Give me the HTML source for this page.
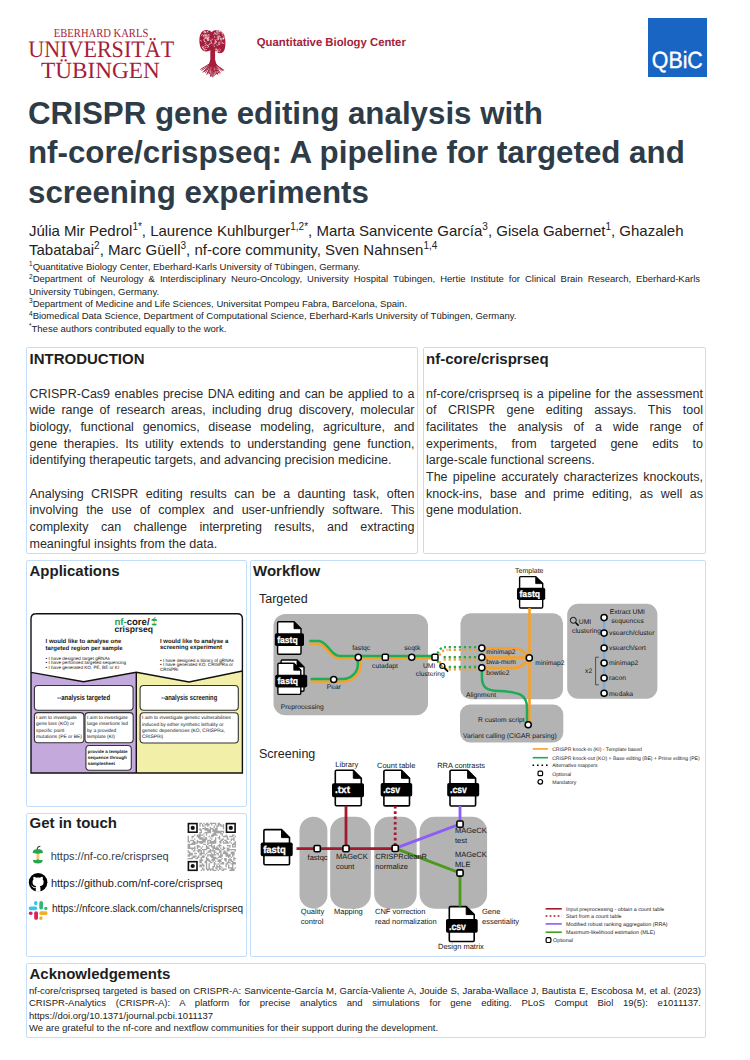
<!DOCTYPE html>
<html><head><meta charset="utf-8">
<style>
html,body{margin:0;padding:0;background:#fff;}
body{width:750px;height:1060px;position:relative;overflow:hidden;font-family:"Liberation Sans",sans-serif;color:#222;}
.a{position:absolute;white-space:nowrap;}
.box{position:absolute;border:1.5px solid #c3defa;border-radius:2px;box-sizing:border-box;}
.title{position:absolute;left:28px;top:93.6px;font-size:31.3px;line-height:39.6px;font-weight:bold;color:#2e3c48;white-space:nowrap;}
.auth{position:absolute;left:29px;top:220.8px;width:672px;font-size:15px;line-height:19px;color:#222;}
.auth sup{font-size:10px;line-height:0;vertical-align:0;position:relative;top:-6px;}
.aff{position:absolute;left:29px;top:260.7px;width:671px;font-size:9.5px;line-height:12.4px;color:#222;}
.aff div,.body div{white-space:nowrap;}
.j{text-align:justify;text-align-last:justify;}
.aff sup{font-size:6.5px;line-height:0;vertical-align:0;position:relative;top:-3.5px;}
h2{margin:0;font-size:15px;line-height:18px;font-weight:bold;color:#1e1e1e;position:absolute;white-space:nowrap;}
.body{position:absolute;font-size:12.5px;line-height:16.65px;color:#2a2a2a;}
svg{position:absolute;left:0;top:0;}
svg text{font-family:"Liberation Sans",sans-serif;text-rendering:geometricPrecision;}
</style></head><body>
<div class="title">CRISPR gene editing analysis with<br>nf-core/crispseq: A pipeline for targeted and<br>screening experiments</div>

<div class="auth">Júlia Mir Pedrol<sup>1*</sup>, Laurence Kuhlburger<sup>1,2*</sup>, Marta Sanvicente García<sup>3</sup>, Gisela Gabernet<sup>1</sup>, Ghazaleh Tabatabai<sup>2</sup>, Marc Güell<sup>3</sup>, nf-core community, Sven Nahnsen<sup>1,4</sup></div>

<div class="aff">
<div><sup>1</sup>Quantitative Biology Center, Eberhard-Karls University of Tübingen, Germany.</div>
<div class="j"><sup>2</sup>Department of Neurology &amp; Interdisciplinary Neuro-Oncology, University Hospital Tübingen, Hertie Institute for Clinical Brain Research, Eberhard-Karls</div>
<div>University Tübingen, Germany.</div>
<div><sup>3</sup>Department of Medicine and Life Sciences, Universitat Pompeu Fabra, Barcelona, Spain.</div>
<div><sup>4</sup>Biomedical Data Science, Department of Computational Science, Eberhard-Karls University of Tübingen, Germany.</div>
<div><sup>*</sup>These authors contributed equally to the work.</div>
</div>

<div class="box" style="left:26px;top:347px;width:392px;height:207px;"></div>
<div class="box" style="left:423px;top:347px;width:282.5px;height:207px;"></div>
<div class="box" style="left:26px;top:560px;width:221px;height:247px;"></div>
<div class="box" style="left:26px;top:813px;width:221px;height:144px;"></div>
<div class="box" style="left:249.5px;top:560px;width:456px;height:397px;"></div>
<div class="box" style="left:26px;top:963px;width:680px;height:75px;"></div>

<h2 style="left:29.5px;top:349.5px;">INTRODUCTION</h2>
<div class="body" style="left:29.5px;top:385.8px;width:385px;">
<div class="j">CRISPR-Cas9 enables precise DNA editing and can be applied to a</div>
<div class="j">wide range of research areas, including drug discovery, molecular</div>
<div class="j">biology, functional genomics, disease modeling, agriculture, and</div>
<div class="j">gene therapies. Its utility extends to understanding gene function,</div>
<div>identifying therapeutic targets, and advancing precision medicine.</div>
<div>&nbsp;</div>
<div class="j">Analysing CRISPR editing results can be a daunting task, often</div>
<div class="j">involving the use of complex and user-unfriendly software. This</div>
<div class="j">complexity can challenge interpreting results, and extracting</div>
<div>meaningful insights from the data.</div>
</div>

<h2 style="left:426px;top:349.5px;">nf-core/crisprseq</h2>
<div class="body" style="left:426px;top:385.8px;width:277px;">
<div class="j">nf-core/crisprseq is a pipeline for the assessment</div>
<div class="j">of CRISPR gene editing assays. This tool</div>
<div class="j">facilitates the analysis of a wide range of</div>
<div class="j">experiments, from targeted gene edits to</div>
<div>large-scale functional screens.</div>
<div class="j">The pipeline accurately characterizes knockouts,</div>
<div class="j">knock-ins, base and prime editing, as well as</div>
<div>gene modulation.</div>
</div>

<h2 style="left:29.5px;top:561.6px;">Applications</h2>
<h2 style="left:253px;top:561.6px;">Workflow</h2>
<h2 style="left:29.5px;top:814.1px;">Get in touch</h2>
<h2 style="left:29.5px;top:964.6px;">Acknowledgements</h2>

<div class="a" style="left:259px;top:592.2px;font-size:12.5px;line-height:15px;color:#222;">Targeted</div>
<div class="a" style="left:259px;top:747.3px;font-size:12.5px;line-height:15px;color:#222;">Screening</div>

<div class="aff" style="top:984.9px;width:672px;line-height:12.5px;">
<div class="j">nf-core/crisprseq targeted is based on CRISPR-A: Sanvicente-García M, García-Valiente A, Jouide S, Jaraba-Wallace J, Bautista E, Escobosa M, et al. (2023)</div>
<div class="j">CRISPR-Analytics (CRISPR-A): A platform for precise analytics and simulations for gene editing. PLoS Comput Biol 19(5): e1011137.</div>
<div>https://doi.org/10.1371/journal.pcbi.1011137</div>
<div>We are grateful to the nf-core and nextflow communities for their support during the development.</div>
</div>

<div class="a" style="left:50.7px;top:849.5px;font-size:11px;line-height:13px;color:#333d4a;">https://nf-co.re/crisprseq</div>
<div class="a" style="left:50.9px;top:876.7px;font-size:11px;line-height:13px;color:#222;">https://github.com/nf-core/crisprseq</div>
<div class="a" style="left:51.9px;top:902.5px;font-size:10px;line-height:12px;color:#222;">https://nfcore.slack.com/channels/crisprseq</div>
<svg width="750" height="1060" viewBox="0 0 750 1060">
<g fill="#a51d3a" font-family="Liberation Serif">
<text x="53.8" y="36.6" font-size="12.3" textLength="94.5" lengthAdjust="spacingAndGlyphs" style="font-family:'Liberation Serif'">EBERHARD KARLS</text>
<text x="28.2" y="56.7" font-size="23.6" textLength="146" lengthAdjust="spacingAndGlyphs" style="font-family:'Liberation Serif'">UNIVERSITÄT</text>
<text x="41" y="77.6" font-size="23.2" textLength="118.8" lengthAdjust="spacingAndGlyphs" style="font-family:'Liberation Serif'">TÜBINGEN</text>
</g>
<g><path d="M211.6,32.3 C209,28.8 202,29.2 200.3,34.5 C198.8,38.5 199.2,45 201.3,48.8 C203.2,52 207.2,52.2 210.3,50.2 L210.3,62 L215.1,62 L215.1,50.5 C217.5,54 222.5,54.3 224.4,50 C226,46 225.9,38 223.6,33.8 C221,29.2 214.5,28.8 211.6,32.3 Z" fill="#a51d3a"/><path d="M206.21,42.47 Q205.82,42.41 205.03,43.73 M206.72,35.66 Q208.04,35.60 208.29,35.61 M215.84,33.81 Q215.20,33.43 214.49,32.28 M216.61,31.91 Q216.34,30.30 216.70,30.20 M221.27,40.90 Q221.42,40.57 220.87,38.89 M203.76,35.27 Q204.71,34.79 205.25,34.95 M212.67,38.99 Q212.30,40.32 211.67,40.36 M216.87,50.94 Q217.82,49.54 218.22,49.22 M222.21,43.02 Q222.60,42.53 221.93,41.80 M207.34,31.90 Q207.35,31.51 208.67,30.16 M207.55,47.41 Q208.10,46.31 208.29,46.66 M217.74,37.78 Q218.55,37.84 219.34,36.30 M207.93,32.19 Q207.03,31.74 207.09,31.58 M215.15,33.94 Q215.84,34.94 217.12,34.47 M222.02,38.81 Q221.46,39.16 220.45,39.21 M213.92,44.14 Q214.56,44.20 215.42,43.56 M206.20,37.12 Q207.09,36.23 207.81,36.90 M210.47,43.26 Q211.54,42.66 212.19,43.48 M215.56,40.76 Q215.58,40.50 214.94,39.47 M216.72,51.69 Q216.87,52.18 216.71,53.24 M209.23,37.38 Q208.33,37.81 208.07,38.63 M219.03,31.09 Q217.88,30.25 217.33,30.30 M219.79,35.75 Q220.40,35.82 220.37,37.16 M208.23,37.84 Q209.18,36.65 208.99,36.52 M208.58,44.81 Q208.72,43.69 209.74,43.79 M219.86,48.95 Q220.62,49.78 220.40,50.17 M219.85,38.10 Q220.78,38.22 220.78,39.08 M208.81,39.67 Q208.83,39.48 207.51,40.39 M222.76,35.39 Q222.99,34.41 222.70,33.38 M207.44,38.00 Q207.66,38.20 207.59,39.07 M219.94,31.49 Q221.38,31.60 221.45,30.45 M222.09,43.19 Q222.51,42.95 223.98,43.35 M216.41,42.05 Q215.68,42.34 214.59,43.15 M206.56,49.46 Q205.36,49.11 204.64,49.73 M204.61,47.92 Q206.00,46.66 206.35,46.99 M215.59,49.48 Q215.85,49.72 216.85,49.89 M210.65,40.90 Q210.02,39.81 210.82,39.92 M203.49,32.01 Q203.83,31.85 205.49,31.68 M208.08,37.42 Q207.69,37.91 207.03,38.85 M205.09,37.73 Q206.03,38.13 206.27,38.90 M202.42,34.43 Q202.27,34.85 201.21,35.66 M219.73,44.20 Q219.06,44.83 218.41,44.81 M213.36,45.79 Q213.92,46.73 214.72,46.45 M222.98,38.73 Q223.38,38.09 224.54,37.57 M203.46,48.39 Q203.38,47.78 202.37,46.63 M218.11,42.90 Q218.00,42.85 219.47,43.93 M219.08,31.47 Q220.16,31.27 220.02,32.09 M203.41,49.07 Q203.67,48.30 202.48,47.29 M219.67,31.30 Q220.10,29.87 219.85,29.69 M218.48,51.06 Q219.22,51.85 219.76,51.58 M206.31,34.45 Q206.72,35.15 206.31,36.19 M209.32,39.23 Q208.21,39.83 208.43,40.44 M223.85,39.58 Q224.15,39.40 223.83,38.39 M216.67,41.88 Q216.43,41.41 214.91,42.06 M202.80,46.96 Q203.41,46.90 204.20,46.15 M204.97,36.38 Q204.94,36.76 205.50,38.00 M217.09,51.48 Q216.69,52.93 216.56,53.25 M214.53,36.38 Q214.60,36.69 214.74,37.38 M204.63,38.43 Q203.64,40.08 203.79,40.17 M220.22,42.76 Q219.86,42.71 218.37,42.98 M218.11,51.63 Q217.06,52.10 216.86,51.89 M216.71,51.59 Q216.60,50.69 217.49,50.57 M204.99,46.00 Q205.26,45.78 206.30,44.39 M208.02,39.81 Q207.30,39.80 207.88,38.72 M207.50,38.35 Q205.92,37.64 205.92,37.47 M210.97,41.19 Q211.91,41.84 211.39,42.84 M207.09,45.14 Q208.53,45.17 208.66,46.48 M223.09,38.73 Q222.90,38.07 223.36,36.84 M216.20,48.23 Q216.84,49.46 216.01,50.13 M217.73,45.43 Q217.41,45.39 216.62,44.93 M204.80,50.08 Q205.17,49.03 204.16,49.13 M208.46,46.35 Q208.01,45.80 207.09,45.39 M208.00,34.38 Q209.25,34.84 209.69,35.16 M218.25,38.40 Q218.77,38.40 218.11,39.86 M218.95,38.29 Q218.65,39.37 218.22,39.58 M203.19,36.45 Q204.10,37.15 204.11,37.12 M204.94,34.66 Q204.62,35.53 203.30,35.61 M214.71,33.72 Q214.26,34.20 213.72,34.46 M205.35,36.00 Q205.94,36.12 205.55,34.99 M223.28,38.93 Q222.69,39.42 221.68,38.38 M216.98,37.09 Q217.65,36.84 217.99,35.87 M216.39,41.32 Q215.13,41.25 214.85,41.09 M201.39,41.51 Q201.03,41.64 200.46,40.29 M221.91,33.48 Q221.42,32.42 222.37,31.80 M206.10,32.21 Q204.79,32.55 204.05,31.70 M217.17,33.46 Q218.40,33.13 218.25,32.12 M218.25,38.06 Q219.20,36.97 218.99,36.07 M218.66,41.17 Q218.40,41.02 219.48,41.84 M204.36,41.44 Q203.98,40.89 203.84,39.87 M207.81,40.72 Q207.33,40.62 207.88,39.24 M217.77,38.57 Q217.36,38.72 216.65,39.76 M219.30,33.66 Q218.23,33.28 218.10,33.96 M204.54,41.29 Q204.93,41.33 205.49,41.66 M217.38,31.62 Q216.02,32.79 216.17,32.47 M205.75,32.57 Q205.36,32.42 204.57,32.76 " stroke="#fff" stroke-width="0.6" fill="none" stroke-linecap="round" opacity="0.95"/><path d="M213.38,61.5 Q209.13,64.10 200.80,69.25 M212.60,61.5 Q209.49,65.58 202.01,70.23 M211.95,61.5 Q209.86,64.60 203.22,72.23 M213.09,61.5 Q210.22,65.63 204.43,71.58 M213.25,61.5 Q210.58,64.19 205.64,72.43 M211.21,61.5 Q210.95,65.18 206.85,74.36 M211.71,61.5 Q211.31,64.18 208.06,73.17 M213.16,61.5 Q211.67,64.11 209.27,73.86 M214.12,61.5 Q212.04,64.40 210.48,76.27 M213.95,61.5 Q212.40,65.61 211.69,76.11 M212.11,61.5 Q212.76,64.07 212.91,77.04 M211.46,61.5 Q213.12,65.89 214.12,75.69 M211.54,61.5 Q213.49,65.70 215.33,74.38 M213.24,61.5 Q213.85,64.67 216.54,73.88 M213.42,61.5 Q214.21,64.35 217.75,74.28 M212.86,61.5 Q214.58,65.67 218.96,73.20 M212.44,61.5 Q214.94,64.73 220.17,72.90 M212.64,61.5 Q215.30,65.56 221.38,70.83 M213.36,61.5 Q215.67,64.34 222.59,70.22 M212.36,61.5 Q216.03,65.42 223.80,70.21 " stroke="#a51d3a" stroke-width="1.0" fill="none" stroke-linecap="round"/><path d="M210.3,60 L215.1,60 L216.8,65 L212.7,68 L208.6,65 Z" fill="#a51d3a"/></g>
<text x="256.8" y="45.9" font-size="11.6" font-weight="bold" fill="#a51d3a" textLength="149" lengthAdjust="spacingAndGlyphs">Quantitative Biology Center</text>
<rect x="648" y="18" width="59" height="59" fill="#1965c4"/>
<text x="651.8" y="68.3" font-size="23.5" fill="#fff" stroke="#fff" stroke-width="0.35" textLength="51" lengthAdjust="spacingAndGlyphs">QBiC</text>
<rect x="273.5" y="614" width="154.5" height="101.2" rx="12" fill="#b3b3b3"/>
<rect x="460.5" y="613.2" width="102.5" height="86" rx="10" fill="#b3b3b3"/>
<rect x="460" y="704.5" width="103.3" height="38" rx="10" fill="#b3b3b3"/>
<rect x="567.2" y="603.7" width="90.2" height="95" rx="11" fill="#b3b3b3"/>
<path d="M278.8,621.7 H294 L301,628.7 V653.0999999999999 Q301,654.3 299.8,654.3 H278.8 Q277.6,654.3 277.6,653.0999999999999 V622.9000000000001 Q277.6,621.7 278.8,621.7 Z" fill="#fff" stroke="#000" stroke-width="1.4"/><path d="M294,621.7 V628.7 H301 Z" fill="#000" stroke="#000" stroke-width="0.84" stroke-linejoin="round"/><rect x="274.9" y="633.2" width="29.100000000000023" height="12.799999999999955" rx="1.8" fill="#000"/><text x="277.2" y="642.8" font-size="9.2" font-weight="bold" fill="#fff" stroke="#fff" stroke-width="0.3" textLength="20.5" lengthAdjust="spacingAndGlyphs">fastq</text>
<path d="M282.29999999999995,660.0 H297.0 L304.0,667.0 V689.9999999999999 Q304.0,691.1999999999999 302.8,691.1999999999999 H282.29999999999995 Q281.09999999999997,691.1999999999999 281.09999999999997,689.9999999999999 V661.2 Q281.09999999999997,660.0 282.29999999999995,660.0 Z" fill="#fff" stroke="#000" stroke-width="1.4"/><path d="M297.0,660.0 V667.0 H304.0 Z" fill="#000" stroke="#000" stroke-width="0.84" stroke-linejoin="round"/><path d="M279.09999999999997,663.2 H293.8 L300.8,670.2 V693.1999999999999 Q300.8,694.4 299.6,694.4 H279.09999999999997 Q277.9,694.4 277.9,693.1999999999999 V664.4000000000001 Q277.9,663.2 279.09999999999997,663.2 Z" fill="#fff" stroke="#000" stroke-width="1.4"/><path d="M293.8,663.2 V670.2 H300.8 Z" fill="#000" stroke="#000" stroke-width="0.84" stroke-linejoin="round"/><rect x="275.2" y="674.8" width="32.0" height="12.600000000000023" rx="1.8" fill="#000"/><text x="277.5" y="684.3" font-size="9.2" font-weight="bold" fill="#fff" stroke="#fff" stroke-width="0.3" textLength="20.5" lengthAdjust="spacingAndGlyphs">fastq</text>
<path d="M520.8000000000001,576.6 H535.7 L542.7,583.6 V606.8 Q542.7,608 541.5,608 H520.8000000000001 Q519.6,608 519.6,606.8 V577.8000000000001 Q519.6,576.6 520.8000000000001,576.6 Z" fill="#fff" stroke="#000" stroke-width="1.4"/><path d="M535.7,576.6 V583.6 H542.7 Z" fill="#000" stroke="#000" stroke-width="0.84" stroke-linejoin="round"/><rect x="517" y="587.7" width="28.200000000000045" height="12.399999999999977" rx="1.8" fill="#000"/><text x="519.5" y="597.2" font-size="9.2" font-weight="bold" fill="#fff" stroke="#fff" stroke-width="0.3" textLength="20.5" lengthAdjust="spacingAndGlyphs">fastq</text>
<text x="529.3" y="573.2" font-size="7" fill="#161616" text-anchor="middle" >Template</text>
<path d="M529.5,608 V724.8" stroke="#f6a12b" stroke-width="2.6" fill="none"/>
<path d="M481.9,668 V677 C481.9,688 487,690.5 499,691 C520,691.8 527,695 527,708 V724.8" stroke="#1fab57" stroke-width="2.5" fill="none"/>
<path d="M309.4,643.8 H317.6 C326.8,643.8 329.8,658.3 339.2,658.3 H435" stroke="#f6a12b" stroke-width="2.5" fill="none"/>
<path d="M309.4,641 H318.6 C327.5,641 330.5,655.9 339.8,655.9 H435" stroke="#1fab57" stroke-width="2.5" fill="none"/>
<path d="M310.6,681.5 H343 C353,681.5 360.2,674 360.2,665 V657.6" stroke="#f6a12b" stroke-width="2.5" fill="none"/>
<path d="M310.6,679.1 H343 C351,679.1 357.8,672 357.8,665 V657.6" stroke="#1fab57" stroke-width="2.5" fill="none"/>
<path d="M443.6,659.5 H479" stroke="#f6a12b" stroke-dasharray="2.2 2.85" stroke-width="2.3" fill="none"/>
<path d="M443.6,657.2 H479" stroke="#1fab57" stroke-dasharray="2.2 2.85" stroke-width="2.3" fill="none"/>
<path d="M448.7,649.8 H479 M448.7,669.4 H479" stroke="#f6a12b" stroke-dasharray="2.2 2.85" stroke-width="2.3" fill="none"/>
<path d="M448.7,647.1 H479 M448.7,667 H479" stroke="#1fab57" stroke-dasharray="2.2 2.85" stroke-width="2.3" fill="none"/>
<path d="M439.5,655.5 C441.5,651.5 443,650 447.5,649.8" stroke="#f6a12b" stroke-dasharray="2.2 2.6" stroke-width="2.3" fill="none"/>
<path d="M437.5,653.5 C439.5,649 441.5,647.3 446,647.1" stroke="#1fab57" stroke-dasharray="2.2 2.6" stroke-width="2.3" fill="none"/>
<path d="M439.5,661.5 C441.5,666.5 443,669.2 447.5,669.4" stroke="#f6a12b" stroke-dasharray="2.2 2.6" stroke-width="2.3" fill="none"/>
<path d="M437.5,660.5 C439.5,665 441.5,666.8 446,667" stroke="#1fab57" stroke-dasharray="2.2 2.6" stroke-width="2.3" fill="none"/>
<path d="M481.8,648.4 H514 C521,648.4 525,652 529.3,657.9 M481.8,657.7 H529.3 M481.8,667.9 H514 C521,667.9 525,664 529.3,657.9" stroke="#f6a12b" stroke-width="2.9" fill="none"/>
<circle cx="358.3" cy="657.4" r="3.05" fill="#fff" stroke="#000" stroke-width="1.5"/>
<circle cx="333.7" cy="679.5" r="3.05" fill="#fff" stroke="#000" stroke-width="1.5"/>
<circle cx="411.7" cy="657.2" r="3.05" fill="#fff" stroke="#000" stroke-width="1.5"/>
<circle cx="481.8" cy="648.1" r="3.05" fill="#fff" stroke="#000" stroke-width="1.5"/>
<circle cx="481.8" cy="657.4" r="3.05" fill="#fff" stroke="#000" stroke-width="1.5"/>
<circle cx="481.8" cy="667.7" r="3.05" fill="#fff" stroke="#000" stroke-width="1.5"/>
<circle cx="529.3" cy="657.9" r="3.05" fill="#fff" stroke="#000" stroke-width="1.5"/>
<circle cx="528.2" cy="724.8" r="3.05" fill="#fff" stroke="#000" stroke-width="1.5"/>
<rect x="382.3" y="654.2" width="6.0" height="6.0" rx="1.3" fill="#fff" stroke="#000" stroke-width="1.5"/>
<rect x="432.0" y="654.2" width="6.0" height="6.0" rx="1.3" fill="#fff" stroke="#000" stroke-width="1.5"/>
<circle cx="442.3" cy="666" r="2.5" fill="none" stroke="#000" stroke-width="1.1"/><path d="M444.2,667.9 L448.1,671.6" stroke="#000" stroke-width="1.6"/>
<circle cx="573.3" cy="620.3" r="3.0" fill="none" stroke="#000" stroke-width="0.9"/><path d="M575.5,622.5 L578.6,625.6" stroke="#000" stroke-width="1.5"/>
<path d="M604.1,617.6 V693.3" stroke="#7aaee0" stroke-width="2.4"/>
<circle cx="604.1" cy="617.6" r="3.05" fill="#fff" stroke="#000" stroke-width="1.5"/>
<circle cx="604.1" cy="633.1" r="3.05" fill="#fff" stroke="#000" stroke-width="1.5"/>
<circle cx="604.1" cy="648" r="3.05" fill="#fff" stroke="#000" stroke-width="1.5"/>
<circle cx="604.1" cy="663" r="3.05" fill="#fff" stroke="#000" stroke-width="1.5"/>
<circle cx="604.1" cy="678" r="3.05" fill="#fff" stroke="#000" stroke-width="1.5"/>
<circle cx="604.1" cy="693.3" r="3.05" fill="#fff" stroke="#000" stroke-width="1.5"/>
<path d="M598.8,657.2 H595.6 V684.8 H598.8" stroke="#333" stroke-width="0.8" fill="none"/>
<text x="361.2" y="649.9" font-size="6.75" fill="#161616" text-anchor="middle" >fastqc</text>
<text x="385" y="667.7" font-size="6.75" fill="#161616" text-anchor="middle" >cutadapt</text>
<text x="412.2" y="649.5" font-size="6.75" fill="#161616" text-anchor="middle" >seqtk</text>
<text x="429.2" y="667.7" font-size="6.75" fill="#161616" text-anchor="middle" >UMI</text>
<text x="430.3" y="675.9" font-size="6.75" fill="#161616" text-anchor="middle" >clustering</text>
<text x="334" y="688.9" font-size="6.75" fill="#161616" text-anchor="middle" >Pear</text>
<text x="280.7" y="708.9" font-size="6.75" fill="#161616" text-anchor="start" >Preprocessing</text>
<text x="486.3" y="654.4" font-size="6.75" fill="#161616" text-anchor="start" >minimap2</text>
<text x="486.3" y="664.4" font-size="6.75" fill="#161616" text-anchor="start" >bwa-mem</text>
<text x="486.3" y="674.8" font-size="6.75" fill="#161616" text-anchor="start" >bowtie2</text>
<text x="535.3" y="664.6" font-size="6.75" fill="#161616" text-anchor="start" >minimap2</text>
<text x="466" y="697.3" font-size="6.75" fill="#161616" text-anchor="start" >Alignment</text>
<text x="478" y="722.3" font-size="6.75" fill="#161616" text-anchor="start" >R custom script</text>
<text x="463" y="738.2" font-size="6.75" fill="#161616" text-anchor="start" >Variant calling (CIGAR parsing)</text>
<text x="627.3" y="614" font-size="6.75" fill="#161616" text-anchor="middle" >Extract UMI</text>
<text x="627.5" y="622.5" font-size="6.75" fill="#161616" text-anchor="middle" >sequences</text>
<text x="609" y="635.3" font-size="6.75" fill="#161616" text-anchor="start" >vsearch/cluster</text>
<text x="609" y="650.3" font-size="6.75" fill="#161616" text-anchor="start" >vsearch/sort</text>
<text x="609" y="665.3" font-size="6.75" fill="#161616" text-anchor="start" >minimap2</text>
<text x="609" y="680.3" font-size="6.75" fill="#161616" text-anchor="start" >racon</text>
<text x="609" y="695.5" font-size="6.75" fill="#161616" text-anchor="start" >medaka</text>
<text x="585" y="672.8" font-size="6.75" fill="#161616" text-anchor="start" >x2</text>
<text x="578.8" y="624.2" font-size="6.75" fill="#161616" text-anchor="start" >UMI</text>
<text x="572" y="633.2" font-size="6.75" fill="#161616" text-anchor="start" >clustering</text>
<path d="M532.7,748.9 H547.9" stroke="#f6a12b" stroke-width="1.6"/>
<path d="M532.7,757.7 H547.9" stroke="#1fab57" stroke-width="1.6"/>
<path d="M532.5,765.3 H548" stroke="#000" stroke-width="1.6" stroke-dasharray="1.6 2.9"/>
<rect x="538.0" y="771.1" width="4.6" height="4.6" rx="1.3" fill="#fff" stroke="#000" stroke-width="1.2"/>
<circle cx="540.3" cy="781.8" r="2.3" fill="#fff" stroke="#000" stroke-width="1.2"/>
<text x="552.2" y="750.7" font-size="5.1" fill="#222" text-anchor="start" >CRISPR knock-in (KI) - Template based</text>
<text x="552.2" y="759.5" font-size="5.1" fill="#222" text-anchor="start" >CRISPR knock-out (KO) + Base editing (BE) + Prime editing (PE)</text>
<text x="552.2" y="767.3" font-size="5.1" fill="#222" text-anchor="start" >Alternative mappers</text>
<text x="552.2" y="775.6" font-size="5.1" fill="#222" text-anchor="start" >Optional</text>
<text x="552.2" y="784" font-size="5.1" fill="#222" text-anchor="start" >Mandatory</text>
<rect x="299.5" y="816.7" width="27.899999999999977" height="92" rx="13.949999999999989" fill="#b3b3b3"/>
<rect x="330.2" y="816.7" width="40.60000000000002" height="92" rx="15" fill="#b3b3b3"/>
<rect x="374.2" y="816.7" width="42.5" height="92" rx="15" fill="#b3b3b3"/>
<rect x="419.6" y="816.7" width="67.5" height="92" rx="15" fill="#b3b3b3"/>
<path d="M265.09999999999997,829.6 H281.5 L289.5,837.6 V863.5999999999999 Q289.5,864.8 288.3,864.8 H265.09999999999997 Q263.9,864.8 263.9,863.5999999999999 V830.8000000000001 Q263.9,829.6 265.09999999999997,829.6 Z" fill="#fff" stroke="#000" stroke-width="1.6"/><path d="M281.5,829.6 V837.6 H289.5 Z" fill="#000" stroke="#000" stroke-width="0.96" stroke-linejoin="round"/><rect x="260.7" y="842.4" width="32.0" height="13.899999999999977" rx="1.8" fill="#000"/><text x="263.2" y="852.6" font-size="10" font-weight="bold" fill="#fff" stroke="#fff" stroke-width="0.3" textLength="22.6" lengthAdjust="spacingAndGlyphs">fastq</text>
<path d="M336.5,770.3 H353.3 L361.3,778.3 V804.5 Q361.3,805.7 360.1,805.7 H336.5 Q335.3,805.7 335.3,804.5 V771.5 Q335.3,770.3 336.5,770.3 Z" fill="#fff" stroke="#000" stroke-width="1.6"/><path d="M353.3,770.3 V778.3 H361.3 Z" fill="#000" stroke="#000" stroke-width="0.96" stroke-linejoin="round"/><rect x="332" y="783.3" width="32" height="13.900000000000091" rx="1.8" fill="#000"/><text x="335" y="793.4" font-size="10" font-weight="bold" fill="#fff" stroke="#fff" stroke-width="0.3" textLength="15" lengthAdjust="spacingAndGlyphs">.txt</text>
<path d="M385.09999999999997,770.3 H401.5 L409.5,778.3 V804.6999999999999 Q409.5,805.9 408.3,805.9 H385.09999999999997 Q383.9,805.9 383.9,804.6999999999999 V771.5 Q383.9,770.3 385.09999999999997,770.3 Z" fill="#fff" stroke="#000" stroke-width="1.6"/><path d="M401.5,770.3 V778.3 H409.5 Z" fill="#000" stroke="#000" stroke-width="0.96" stroke-linejoin="round"/><rect x="380.7" y="783" width="31.5" height="13.5" rx="1.8" fill="#000"/><text x="383.2" y="793.4" font-size="10" font-weight="bold" fill="#fff" stroke="#fff" stroke-width="0.3" textLength="16.8" lengthAdjust="spacingAndGlyphs">.csv</text>
<path d="M451.2,770.3 H467.6 L475.6,778.3 V804.8 Q475.6,806 474.40000000000003,806 H451.2 Q450,806 450,804.8 V771.5 Q450,770.3 451.2,770.3 Z" fill="#fff" stroke="#000" stroke-width="1.6"/><path d="M467.6,770.3 V778.3 H475.6 Z" fill="#000" stroke="#000" stroke-width="0.96" stroke-linejoin="round"/><rect x="447.2" y="783" width="32.0" height="13.5" rx="1.8" fill="#000"/><text x="450" y="793.4" font-size="10" font-weight="bold" fill="#fff" stroke="#fff" stroke-width="0.3" textLength="16.8" lengthAdjust="spacingAndGlyphs">.csv</text>
<path d="M450.5,906.6 H466.2 L474.2,914.6 V940.3 Q474.2,941.5 473.0,941.5 H450.5 Q449.3,941.5 449.3,940.3 V907.8000000000001 Q449.3,906.6 450.5,906.6 Z" fill="#fff" stroke="#000" stroke-width="1.6"/><path d="M466.2,906.6 V914.6 H474.2 Z" fill="#000" stroke="#000" stroke-width="0.96" stroke-linejoin="round"/><rect x="446" y="919" width="31.69999999999999" height="13.700000000000045" rx="1.8" fill="#000"/><text x="449" y="929.7" font-size="10" font-weight="bold" fill="#fff" stroke="#fff" stroke-width="0.3" textLength="16.8" lengthAdjust="spacingAndGlyphs">.csv</text>
<path d="M296.5,848.6 H395.2 M346,805.7 V848.6" stroke="#a3192e" stroke-width="2.8" fill="none"/>
<path d="M395.2,806 V848" stroke="#a3192e" stroke-width="2.8" stroke-dasharray="2.6 2.7" fill="none"/>
<path d="M395.2,848.4 L460,824.1 V806" stroke="#8c5cf5" stroke-width="2.8" fill="none"/>
<path d="M395.2,848.4 L460,873 V906.6" stroke="#4c9a1a" stroke-width="2.8" fill="none"/>
<rect x="314.09999999999997" y="845.5" width="6.2" height="6.2" rx="1.3" fill="#fff" stroke="#000" stroke-width="1.6"/>
<rect x="342.9" y="845.5" width="6.2" height="6.2" rx="1.3" fill="#fff" stroke="#000" stroke-width="1.6"/>
<rect x="392.09999999999997" y="845.3" width="6.2" height="6.2" rx="1.3" fill="#fff" stroke="#000" stroke-width="1.6"/>
<rect x="456.9" y="821.0" width="6.2" height="6.2" rx="1.3" fill="#fff" stroke="#000" stroke-width="1.6"/>
<rect x="456.9" y="869.9" width="6.2" height="6.2" rx="1.3" fill="#fff" stroke="#000" stroke-width="1.6"/>
<text x="335.3" y="766.7" font-size="7.5" fill="#161616" text-anchor="start" >Library</text>
<text x="377" y="768" font-size="7.5" fill="#161616" text-anchor="start" >Count table</text>
<text x="437.2" y="768" font-size="7.5" fill="#161616" text-anchor="start" >RRA contrasts</text>
<text x="307.6" y="860.4" font-size="7.5" fill="#161616" text-anchor="start" >fastqc</text>
<text x="336" y="859" font-size="7.5" fill="#161616" text-anchor="start" >MAGeCK</text>
<text x="336" y="868.7" font-size="7.5" fill="#161616" text-anchor="start" >count</text>
<text x="375.3" y="859" font-size="7.5" fill="#161616" text-anchor="start" >CRISPRcleanR</text>
<text x="375.3" y="868.7" font-size="7.5" fill="#161616" text-anchor="start" >normalize</text>
<text x="455" y="833.3" font-size="7.5" fill="#161616" text-anchor="start" >MAGeCK</text>
<text x="455" y="842.7" font-size="7.5" fill="#161616" text-anchor="start" >test</text>
<text x="455" y="857.3" font-size="7.5" fill="#161616" text-anchor="start" >MAGeCK</text>
<text x="455" y="866.7" font-size="7.5" fill="#161616" text-anchor="start" >MLE</text>
<text x="300.8" y="914.2" font-size="7.5" fill="#161616" text-anchor="start" >Quality</text>
<text x="300.8" y="924.2" font-size="7.5" fill="#161616" text-anchor="start" >control</text>
<text x="334" y="914.2" font-size="7.5" fill="#161616" text-anchor="start" >Mapping</text>
<text x="375" y="914.2" font-size="7.5" fill="#161616" text-anchor="start" >CNF vorrection</text>
<text x="375" y="924.2" font-size="7.5" fill="#161616" text-anchor="start" >read normalization</text>
<text x="482" y="914.2" font-size="7.5" fill="#161616" text-anchor="start" >Gene</text>
<text x="482" y="924.2" font-size="7.5" fill="#161616" text-anchor="start" >essentiality</text>
<text x="438" y="949.3" font-size="7.5" fill="#161616" text-anchor="start" >Design matrix</text>
<path d="M545.6,908.8 H561.8" stroke="#a3192e" stroke-width="1.6"/>
<path d="M545.6,916 H561.8" stroke="#a3192e" stroke-width="1.6" stroke-dasharray="1.8 2.2"/>
<path d="M545.6,923.9 H561.8" stroke="#8c5cf5" stroke-width="1.6"/>
<path d="M545.6,932.2 H561.8" stroke="#4c9a1a" stroke-width="1.6"/>
<rect x="546.1" y="937.7" width="4.8" height="4.8" rx="1.3" fill="#fff" stroke="#000" stroke-width="1.2"/>
<text x="566" y="910.7" font-size="5.35" fill="#222" text-anchor="start" >Input preprocessing - obtain a count table</text>
<text x="566" y="918" font-size="5.35" fill="#222" text-anchor="start" >Start from a count table</text>
<text x="566" y="926" font-size="5.35" fill="#222" text-anchor="start" >Modified robust ranking aggregation (RRA)</text>
<text x="566" y="934.2" font-size="5.35" fill="#222" text-anchor="start" >Maximum-likelihood estimation (MLE)</text>
<text x="553" y="942" font-size="5.35" fill="#222" text-anchor="start" >Optional</text>
<path d="M35.9,613.8 H237.4 Q242.4,613.8 242.4,618.8 V773 H31 V618.8 Q31,613.8 36,613.8 Z" fill="#fff"/>
<path d="M31,672.4 L83.6,681.8 L136.3,672.2 V773 H31 Z" fill="#c4aadc"/>
<path d="M136.3,672.2 L189,682 L242.4,671 V773 H136.3 Z" fill="#f2f0a8"/>
<path d="M31,672.4 L83.6,681.8 L136.3,672.2 L189,682 L242.4,671 M136.3,672.2 V773" stroke="#111" stroke-width="1.4" fill="none"/>
<path d="M35.9,613.8 H237.4 Q242.4,613.8 242.4,618.8 V773 H31 V618.8 Q31,613.8 36,613.8 Z" fill="none" stroke="#111" stroke-width="1.4"/>
<rect x="34.4" y="685.5" width="98.69999999999999" height="24.799999999999955" rx="3.5" fill="#fff" stroke="#333" stroke-width="1.1"/>
<rect x="140.1" y="685.5" width="98.20000000000002" height="24.799999999999955" rx="3.5" fill="#fff" stroke="#333" stroke-width="1.1"/>
<rect x="34.4" y="712.6" width="49.50000000000001" height="30.199999999999932" rx="3.5" fill="#fff" stroke="#333" stroke-width="1.1"/>
<rect x="85" y="712.6" width="48.19999999999999" height="30.199999999999932" rx="3.5" fill="#fff" stroke="#333" stroke-width="1.1"/>
<rect x="85.9" y="745.5" width="45.400000000000006" height="24.700000000000045" rx="3.5" fill="#fff" stroke="#333" stroke-width="1.1"/>
<rect x="140.1" y="712.8" width="98.20000000000002" height="30.200000000000045" rx="3.5" fill="#fff" stroke="#333" stroke-width="1.1"/>
<text x="114.4" y="624.6" font-size="9.6" font-weight="bold" fill="#1b1b1b"><tspan fill="#22a35a">nf-</tspan>core/</text>
<text x="114.4" y="632" font-size="8.6" font-weight="bold" fill="#1b1b1b">crisprseq</text>
<g transform="translate(151.2,617) scale(0.5454545454545454,0.4540540540540541)"><path d="M4.8,4.3 C4.9,2.2 6,1.2 8.1,1" stroke="#444" stroke-width="1.1" fill="none"/><path d="M0.3,7.5 C0.6,4.8 2.8,3.9 5.5,3.9 C8.2,3.9 10.5,4.8 10.8,7.5 C10,8.5 9,8 8.2,8.2 C7.2,8.4 6.6,9.3 5.5,9.3 C4.4,9.3 3.8,8.4 2.8,8.2 C2,8 1,8.5 0.3,7.5 Z" fill="#20a64c"/><rect x="4.2" y="8.6" width="2.9" height="6.8" fill="#f4c873"/><path d="M0.6,14.6 C1.4,15.4 2.3,14.9 3.2,15.1 C4.2,15.3 4.6,14.2 5.5,14.2 C6.4,14.2 6.8,15.3 7.8,15.1 C8.7,14.9 9.6,15.4 10.4,14.6 C10.4,17.2 8.4,18.5 5.5,18.5 C2.6,18.5 0.6,17.2 0.6,14.6 Z" fill="#20a64c"/></g>
<text x="45.6" y="643.4" font-size="6" font-weight="bold" fill="#151515">I would like to analyse one</text>
<text x="45.6" y="649.6" font-size="6" font-weight="bold" fill="#151515">targeted region per sample</text>
<text x="160" y="643.4" font-size="6" font-weight="bold" fill="#151515">I would like to analyse a</text>
<text x="160" y="649.4" font-size="6" font-weight="bold" fill="#151515">screening experiment</text>
<text x="45.6" y="659.6" font-size="4.6" fill="#151515">• I have designed target gRNAs</text>
<text x="45.6" y="664.4" font-size="4.6" fill="#151515">• I have performed targeted sequencing</text>
<text x="45.6" y="669.2" font-size="4.6" fill="#151515">• I have generated KO, PE, BE or KI</text>
<text x="160" y="661.8" font-size="4.6" fill="#151515">• I have designed a library of gRNAs</text>
<text x="160" y="666.1" font-size="4.6" fill="#151515">• I have generated KO, CRISPRa or</text>
<text x="160" y="670.9" font-size="4.6" fill="#151515">CRISPRi</text>
<text x="83.7" y="700.2" font-size="6.6" font-weight="bold" fill="#151515" text-anchor="middle" textLength="52.8" lengthAdjust="spacingAndGlyphs" transform="translate(0,700.2) scale(1,1.15) translate(0,-700.2)">--analysis targeted</text>
<text x="189.2" y="700.2" font-size="6.6" font-weight="bold" fill="#151515" text-anchor="middle" textLength="56" lengthAdjust="spacingAndGlyphs" transform="translate(0,700.2) scale(1,1.15) translate(0,-700.2)">--analysis screening</text>
<text x="36" y="719.20" font-size="4.9" fill="#151515">I aim to investigate</text>
<text x="36" y="725.45" font-size="4.9" fill="#151515">gene loss (KO) or</text>
<text x="36" y="731.70" font-size="4.9" fill="#151515">specific point</text>
<text x="36" y="737.95" font-size="4.9" fill="#151515">mutations (PE or BE)</text>
<text x="86.9" y="719.20" font-size="4.9" fill="#151515">I aim to investigate</text>
<text x="86.9" y="725.45" font-size="4.9" fill="#151515">large insertions led</text>
<text x="86.9" y="731.70" font-size="4.9" fill="#151515">by a provided</text>
<text x="86.9" y="737.95" font-size="4.9" fill="#151515">template (KI)</text>
<text x="87.8" y="753.30" font-size="4.5" font-weight="bold" fill="#151515">provide a template</text>
<text x="87.8" y="759.20" font-size="4.5" font-weight="bold" fill="#151515">sequence through</text>
<text x="87.8" y="765.10" font-size="4.5" font-weight="bold" fill="#151515">samplesheet</text>
<text x="142" y="719.40" font-size="4.9" fill="#151515">I aim to investigate genetic vulnerabilities</text>
<text x="142" y="725.70" font-size="4.9" fill="#151515">induced by either synthetic lethality or</text>
<text x="142" y="732.00" font-size="4.9" fill="#151515">genetic dependencies (KO, CRISPRa,</text>
<text x="142" y="738.30" font-size="4.9" fill="#151515">CRISPRi)</text>
<g transform="translate(32.3,845.2) scale(1.0,0.9891891891891892)"><path d="M4.8,4.3 C4.9,2.2 6,1.2 8.1,1" stroke="#444" stroke-width="1.1" fill="none"/><path d="M0.3,7.5 C0.6,4.8 2.8,3.9 5.5,3.9 C8.2,3.9 10.5,4.8 10.8,7.5 C10,8.5 9,8 8.2,8.2 C7.2,8.4 6.6,9.3 5.5,9.3 C4.4,9.3 3.8,8.4 2.8,8.2 C2,8 1,8.5 0.3,7.5 Z" fill="#20a64c"/><rect x="4.2" y="8.6" width="2.9" height="6.8" fill="#f4c873"/><path d="M0.6,14.6 C1.4,15.4 2.3,14.9 3.2,15.1 C4.2,15.3 4.6,14.2 5.5,14.2 C6.4,14.2 6.8,15.3 7.8,15.1 C8.7,14.9 9.6,15.4 10.4,14.6 C10.4,17.2 8.4,18.5 5.5,18.5 C2.6,18.5 0.6,17.2 0.6,14.6 Z" fill="#20a64c"/></g>
<g transform="translate(38.1,882.3)"><circle r="9.3" fill="#000"/><g transform="scale(0.9) translate(0,0.6)"><path d="M-2.6,10 V5.6 C-2.6,4.6 -2.3,4 -1.9,3.7 C-4.6,3.4 -6.2,2.2 -6.2,-1.2 C-6.2,-2.3 -5.8,-3.3 -5.1,-4 C-5.3,-4.5 -5.5,-5.6 -5,-6.8 C-5,-6.8 -4,-7.1 -1.8,-5.6 C-1.2,-5.8 -0.6,-5.9 0,-5.9 C0.6,-5.9 1.2,-5.8 1.8,-5.6 C4,-7.1 5,-6.8 5,-6.8 C5.5,-5.6 5.3,-4.5 5.1,-4 C5.8,-3.3 6.2,-2.3 6.2,-1.2 C6.2,2.2 4.6,3.4 1.9,3.7 C2.3,4 2.6,4.7 2.6,5.6 V10 Z" fill="#fff"/><path d="M-2.6,5.2 C-5.5,6 -5.9,3.8 -7.2,3.3" stroke="#fff" stroke-width="1.1" fill="none"/></g></g>
<rect x="28.8" y="906.4" width="8.400000000000002" height="3.800000000000068" rx="1.900000000000034" fill="#36c5f0"/>
<rect x="34.1" y="901.1" width="3.299999999999997" height="4.100000000000023" rx="1.6499999999999986" fill="#36c5f0"/>
<rect x="39.3" y="901.1" width="3.700000000000003" height="8.5" rx="1.8500000000000014" fill="#2eb67d"/>
<rect x="44.2" y="906.8" width="3.299999999999997" height="3.400000000000091" rx="1.6499999999999986" fill="#2eb67d"/>
<rect x="28.8" y="911.4" width="3.8000000000000007" height="3.6000000000000227" rx="1.8000000000000114" fill="#e01e5a"/>
<rect x="34.2" y="911.3" width="3.799999999999997" height="8.5" rx="1.8999999999999986" fill="#e01e5a"/>
<rect x="39.3" y="911.3" width="8.200000000000003" height="3.7000000000000455" rx="1.8500000000000227" fill="#ecb22e"/>
<rect x="39.3" y="916.3" width="3.3000000000000043" height="3.7000000000000455" rx="1.6500000000000021" fill="#ecb22e"/>
<g transform="translate(187.6,822.8)"><path d="M11.75,0.00h1.31v1.31h-1.31zM13.05,0.00h1.31v1.31h-1.31zM15.66,0.00h1.31v1.31h-1.31zM18.28,0.00h1.31v1.31h-1.31zM19.58,0.00h1.31v1.31h-1.31zM22.19,0.00h1.31v1.31h-1.31zM23.50,0.00h1.31v1.31h-1.31zM24.80,0.00h1.31v1.31h-1.31zM26.11,0.00h1.31v1.31h-1.31zM27.41,0.00h1.31v1.31h-1.31zM30.02,0.00h1.31v1.31h-1.31zM31.33,0.00h1.31v1.31h-1.31zM11.75,1.31h1.31v1.31h-1.31zM14.36,1.31h1.31v1.31h-1.31zM16.97,1.31h1.31v1.31h-1.31zM18.28,1.31h1.31v1.31h-1.31zM19.58,1.31h1.31v1.31h-1.31zM20.89,1.31h1.31v1.31h-1.31zM23.50,1.31h1.31v1.31h-1.31zM27.41,1.31h1.31v1.31h-1.31zM30.02,1.31h1.31v1.31h-1.31zM31.33,1.31h1.31v1.31h-1.31zM32.64,1.31h1.31v1.31h-1.31zM35.25,1.31h1.31v1.31h-1.31zM11.75,2.61h1.31v1.31h-1.31zM14.36,2.61h1.31v1.31h-1.31zM15.66,2.61h1.31v1.31h-1.31zM19.58,2.61h1.31v1.31h-1.31zM26.11,2.61h1.31v1.31h-1.31zM28.72,2.61h1.31v1.31h-1.31zM30.02,2.61h1.31v1.31h-1.31zM32.64,2.61h1.31v1.31h-1.31zM33.94,2.61h1.31v1.31h-1.31zM35.25,2.61h1.31v1.31h-1.31zM16.97,3.92h1.31v1.31h-1.31zM22.19,3.92h1.31v1.31h-1.31zM26.11,3.92h1.31v1.31h-1.31zM28.72,3.92h1.31v1.31h-1.31zM35.25,3.92h1.31v1.31h-1.31zM11.75,5.22h1.31v1.31h-1.31zM14.36,5.22h1.31v1.31h-1.31zM15.66,5.22h1.31v1.31h-1.31zM16.97,5.22h1.31v1.31h-1.31zM18.28,5.22h1.31v1.31h-1.31zM19.58,5.22h1.31v1.31h-1.31zM22.19,5.22h1.31v1.31h-1.31zM23.50,5.22h1.31v1.31h-1.31zM24.80,5.22h1.31v1.31h-1.31zM27.41,5.22h1.31v1.31h-1.31zM28.72,5.22h1.31v1.31h-1.31zM35.25,5.22h1.31v1.31h-1.31zM11.75,6.53h1.31v1.31h-1.31zM13.05,6.53h1.31v1.31h-1.31zM16.97,6.53h1.31v1.31h-1.31zM18.28,6.53h1.31v1.31h-1.31zM19.58,6.53h1.31v1.31h-1.31zM20.89,6.53h1.31v1.31h-1.31zM22.19,6.53h1.31v1.31h-1.31zM24.80,6.53h1.31v1.31h-1.31zM26.11,6.53h1.31v1.31h-1.31zM27.41,6.53h1.31v1.31h-1.31zM28.72,6.53h1.31v1.31h-1.31zM13.05,7.83h1.31v1.31h-1.31zM19.58,7.83h1.31v1.31h-1.31zM20.89,7.83h1.31v1.31h-1.31zM22.19,7.83h1.31v1.31h-1.31zM24.80,7.83h1.31v1.31h-1.31zM26.11,7.83h1.31v1.31h-1.31zM27.41,7.83h1.31v1.31h-1.31zM28.72,7.83h1.31v1.31h-1.31zM30.02,7.83h1.31v1.31h-1.31zM31.33,7.83h1.31v1.31h-1.31zM32.64,7.83h1.31v1.31h-1.31zM33.94,7.83h1.31v1.31h-1.31zM35.25,7.83h1.31v1.31h-1.31zM11.75,9.14h1.31v1.31h-1.31zM13.05,9.14h1.31v1.31h-1.31zM16.97,9.14h1.31v1.31h-1.31zM18.28,9.14h1.31v1.31h-1.31zM19.58,9.14h1.31v1.31h-1.31zM20.89,9.14h1.31v1.31h-1.31zM22.19,9.14h1.31v1.31h-1.31zM26.11,9.14h1.31v1.31h-1.31zM27.41,9.14h1.31v1.31h-1.31zM28.72,9.14h1.31v1.31h-1.31zM30.02,9.14h1.31v1.31h-1.31zM31.33,9.14h1.31v1.31h-1.31zM32.64,9.14h1.31v1.31h-1.31zM35.25,9.14h1.31v1.31h-1.31zM11.75,10.44h1.31v1.31h-1.31zM15.66,10.44h1.31v1.31h-1.31zM18.28,10.44h1.31v1.31h-1.31zM24.80,10.44h1.31v1.31h-1.31zM26.11,10.44h1.31v1.31h-1.31zM27.41,10.44h1.31v1.31h-1.31zM32.64,10.44h1.31v1.31h-1.31zM33.94,10.44h1.31v1.31h-1.31zM6.53,11.75h1.31v1.31h-1.31zM9.14,11.75h1.31v1.31h-1.31zM10.44,11.75h1.31v1.31h-1.31zM11.75,11.75h1.31v1.31h-1.31zM13.05,11.75h1.31v1.31h-1.31zM14.36,11.75h1.31v1.31h-1.31zM18.28,11.75h1.31v1.31h-1.31zM23.50,11.75h1.31v1.31h-1.31zM24.80,11.75h1.31v1.31h-1.31zM26.11,11.75h1.31v1.31h-1.31zM27.41,11.75h1.31v1.31h-1.31zM28.72,11.75h1.31v1.31h-1.31zM33.94,11.75h1.31v1.31h-1.31zM37.86,11.75h1.31v1.31h-1.31zM44.38,11.75h1.31v1.31h-1.31zM45.69,11.75h1.31v1.31h-1.31zM0.00,13.05h1.31v1.31h-1.31zM3.92,13.05h1.31v1.31h-1.31zM5.22,13.05h1.31v1.31h-1.31zM9.14,13.05h1.31v1.31h-1.31zM10.44,13.05h1.31v1.31h-1.31zM11.75,13.05h1.31v1.31h-1.31zM15.66,13.05h1.31v1.31h-1.31zM20.89,13.05h1.31v1.31h-1.31zM23.50,13.05h1.31v1.31h-1.31zM24.80,13.05h1.31v1.31h-1.31zM31.33,13.05h1.31v1.31h-1.31zM35.25,13.05h1.31v1.31h-1.31zM36.55,13.05h1.31v1.31h-1.31zM37.86,13.05h1.31v1.31h-1.31zM39.16,13.05h1.31v1.31h-1.31zM41.77,13.05h1.31v1.31h-1.31zM43.08,13.05h1.31v1.31h-1.31zM44.38,13.05h1.31v1.31h-1.31zM46.99,13.05h1.31v1.31h-1.31zM0.00,14.36h1.31v1.31h-1.31zM3.92,14.36h1.31v1.31h-1.31zM10.44,14.36h1.31v1.31h-1.31zM11.75,14.36h1.31v1.31h-1.31zM13.05,14.36h1.31v1.31h-1.31zM14.36,14.36h1.31v1.31h-1.31zM16.97,14.36h1.31v1.31h-1.31zM18.28,14.36h1.31v1.31h-1.31zM22.19,14.36h1.31v1.31h-1.31zM27.41,14.36h1.31v1.31h-1.31zM30.02,14.36h1.31v1.31h-1.31zM31.33,14.36h1.31v1.31h-1.31zM39.16,14.36h1.31v1.31h-1.31zM45.69,14.36h1.31v1.31h-1.31zM0.00,15.66h1.31v1.31h-1.31zM6.53,15.66h1.31v1.31h-1.31zM11.75,15.66h1.31v1.31h-1.31zM13.05,15.66h1.31v1.31h-1.31zM14.36,15.66h1.31v1.31h-1.31zM15.66,15.66h1.31v1.31h-1.31zM16.97,15.66h1.31v1.31h-1.31zM18.28,15.66h1.31v1.31h-1.31zM23.50,15.66h1.31v1.31h-1.31zM27.41,15.66h1.31v1.31h-1.31zM31.33,15.66h1.31v1.31h-1.31zM33.94,15.66h1.31v1.31h-1.31zM35.25,15.66h1.31v1.31h-1.31zM39.16,15.66h1.31v1.31h-1.31zM40.47,15.66h1.31v1.31h-1.31zM43.08,15.66h1.31v1.31h-1.31zM44.38,15.66h1.31v1.31h-1.31zM45.69,15.66h1.31v1.31h-1.31zM0.00,16.97h1.31v1.31h-1.31zM2.61,16.97h1.31v1.31h-1.31zM3.92,16.97h1.31v1.31h-1.31zM5.22,16.97h1.31v1.31h-1.31zM9.14,16.97h1.31v1.31h-1.31zM14.36,16.97h1.31v1.31h-1.31zM15.66,16.97h1.31v1.31h-1.31zM16.97,16.97h1.31v1.31h-1.31zM19.58,16.97h1.31v1.31h-1.31zM20.89,16.97h1.31v1.31h-1.31zM22.19,16.97h1.31v1.31h-1.31zM26.11,16.97h1.31v1.31h-1.31zM27.41,16.97h1.31v1.31h-1.31zM32.64,16.97h1.31v1.31h-1.31zM33.94,16.97h1.31v1.31h-1.31zM36.55,16.97h1.31v1.31h-1.31zM37.86,16.97h1.31v1.31h-1.31zM43.08,16.97h1.31v1.31h-1.31zM45.69,16.97h1.31v1.31h-1.31zM0.00,18.28h1.31v1.31h-1.31zM1.31,18.28h1.31v1.31h-1.31zM5.22,18.28h1.31v1.31h-1.31zM6.53,18.28h1.31v1.31h-1.31zM9.14,18.28h1.31v1.31h-1.31zM10.44,18.28h1.31v1.31h-1.31zM11.75,18.28h1.31v1.31h-1.31zM13.05,18.28h1.31v1.31h-1.31zM14.36,18.28h1.31v1.31h-1.31zM15.66,18.28h1.31v1.31h-1.31zM16.97,18.28h1.31v1.31h-1.31zM19.58,18.28h1.31v1.31h-1.31zM22.19,18.28h1.31v1.31h-1.31zM23.50,18.28h1.31v1.31h-1.31zM24.80,18.28h1.31v1.31h-1.31zM26.11,18.28h1.31v1.31h-1.31zM27.41,18.28h1.31v1.31h-1.31zM31.33,18.28h1.31v1.31h-1.31zM32.64,18.28h1.31v1.31h-1.31zM35.25,18.28h1.31v1.31h-1.31zM37.86,18.28h1.31v1.31h-1.31zM39.16,18.28h1.31v1.31h-1.31zM41.77,18.28h1.31v1.31h-1.31zM46.99,18.28h1.31v1.31h-1.31zM3.92,19.58h1.31v1.31h-1.31zM5.22,19.58h1.31v1.31h-1.31zM6.53,19.58h1.31v1.31h-1.31zM7.83,19.58h1.31v1.31h-1.31zM9.14,19.58h1.31v1.31h-1.31zM11.75,19.58h1.31v1.31h-1.31zM13.05,19.58h1.31v1.31h-1.31zM14.36,19.58h1.31v1.31h-1.31zM19.58,19.58h1.31v1.31h-1.31zM20.89,19.58h1.31v1.31h-1.31zM22.19,19.58h1.31v1.31h-1.31zM23.50,19.58h1.31v1.31h-1.31zM24.80,19.58h1.31v1.31h-1.31zM26.11,19.58h1.31v1.31h-1.31zM27.41,19.58h1.31v1.31h-1.31zM32.64,19.58h1.31v1.31h-1.31zM35.25,19.58h1.31v1.31h-1.31zM36.55,19.58h1.31v1.31h-1.31zM37.86,19.58h1.31v1.31h-1.31zM39.16,19.58h1.31v1.31h-1.31zM40.47,19.58h1.31v1.31h-1.31zM43.08,19.58h1.31v1.31h-1.31zM45.69,19.58h1.31v1.31h-1.31zM46.99,19.58h1.31v1.31h-1.31zM0.00,20.89h1.31v1.31h-1.31zM1.31,20.89h1.31v1.31h-1.31zM2.61,20.89h1.31v1.31h-1.31zM3.92,20.89h1.31v1.31h-1.31zM5.22,20.89h1.31v1.31h-1.31zM6.53,20.89h1.31v1.31h-1.31zM15.66,20.89h1.31v1.31h-1.31zM16.97,20.89h1.31v1.31h-1.31zM19.58,20.89h1.31v1.31h-1.31zM23.50,20.89h1.31v1.31h-1.31zM31.33,20.89h1.31v1.31h-1.31zM44.38,20.89h1.31v1.31h-1.31zM45.69,20.89h1.31v1.31h-1.31zM46.99,20.89h1.31v1.31h-1.31zM0.00,22.19h1.31v1.31h-1.31zM1.31,22.19h1.31v1.31h-1.31zM9.14,22.19h1.31v1.31h-1.31zM10.44,22.19h1.31v1.31h-1.31zM18.28,22.19h1.31v1.31h-1.31zM20.89,22.19h1.31v1.31h-1.31zM22.19,22.19h1.31v1.31h-1.31zM23.50,22.19h1.31v1.31h-1.31zM26.11,22.19h1.31v1.31h-1.31zM30.02,22.19h1.31v1.31h-1.31zM31.33,22.19h1.31v1.31h-1.31zM32.64,22.19h1.31v1.31h-1.31zM39.16,22.19h1.31v1.31h-1.31zM40.47,22.19h1.31v1.31h-1.31zM41.77,22.19h1.31v1.31h-1.31zM44.38,22.19h1.31v1.31h-1.31zM46.99,22.19h1.31v1.31h-1.31zM0.00,23.50h1.31v1.31h-1.31zM1.31,23.50h1.31v1.31h-1.31zM6.53,23.50h1.31v1.31h-1.31zM9.14,23.50h1.31v1.31h-1.31zM10.44,23.50h1.31v1.31h-1.31zM11.75,23.50h1.31v1.31h-1.31zM14.36,23.50h1.31v1.31h-1.31zM18.28,23.50h1.31v1.31h-1.31zM19.58,23.50h1.31v1.31h-1.31zM23.50,23.50h1.31v1.31h-1.31zM24.80,23.50h1.31v1.31h-1.31zM26.11,23.50h1.31v1.31h-1.31zM28.72,23.50h1.31v1.31h-1.31zM31.33,23.50h1.31v1.31h-1.31zM35.25,23.50h1.31v1.31h-1.31zM41.77,23.50h1.31v1.31h-1.31zM44.38,23.50h1.31v1.31h-1.31zM45.69,23.50h1.31v1.31h-1.31zM46.99,23.50h1.31v1.31h-1.31zM0.00,24.80h1.31v1.31h-1.31zM1.31,24.80h1.31v1.31h-1.31zM2.61,24.80h1.31v1.31h-1.31zM3.92,24.80h1.31v1.31h-1.31zM5.22,24.80h1.31v1.31h-1.31zM6.53,24.80h1.31v1.31h-1.31zM9.14,24.80h1.31v1.31h-1.31zM13.05,24.80h1.31v1.31h-1.31zM18.28,24.80h1.31v1.31h-1.31zM19.58,24.80h1.31v1.31h-1.31zM20.89,24.80h1.31v1.31h-1.31zM24.80,24.80h1.31v1.31h-1.31zM26.11,24.80h1.31v1.31h-1.31zM27.41,24.80h1.31v1.31h-1.31zM28.72,24.80h1.31v1.31h-1.31zM30.02,24.80h1.31v1.31h-1.31zM32.64,24.80h1.31v1.31h-1.31zM35.25,24.80h1.31v1.31h-1.31zM36.55,24.80h1.31v1.31h-1.31zM39.16,24.80h1.31v1.31h-1.31zM40.47,24.80h1.31v1.31h-1.31zM3.92,26.11h1.31v1.31h-1.31zM6.53,26.11h1.31v1.31h-1.31zM10.44,26.11h1.31v1.31h-1.31zM11.75,26.11h1.31v1.31h-1.31zM14.36,26.11h1.31v1.31h-1.31zM15.66,26.11h1.31v1.31h-1.31zM16.97,26.11h1.31v1.31h-1.31zM18.28,26.11h1.31v1.31h-1.31zM22.19,26.11h1.31v1.31h-1.31zM24.80,26.11h1.31v1.31h-1.31zM27.41,26.11h1.31v1.31h-1.31zM28.72,26.11h1.31v1.31h-1.31zM30.02,26.11h1.31v1.31h-1.31zM31.33,26.11h1.31v1.31h-1.31zM33.94,26.11h1.31v1.31h-1.31zM35.25,26.11h1.31v1.31h-1.31zM39.16,26.11h1.31v1.31h-1.31zM40.47,26.11h1.31v1.31h-1.31zM41.77,26.11h1.31v1.31h-1.31zM43.08,26.11h1.31v1.31h-1.31zM44.38,26.11h1.31v1.31h-1.31zM45.69,26.11h1.31v1.31h-1.31zM46.99,26.11h1.31v1.31h-1.31zM0.00,27.41h1.31v1.31h-1.31zM5.22,27.41h1.31v1.31h-1.31zM6.53,27.41h1.31v1.31h-1.31zM9.14,27.41h1.31v1.31h-1.31zM10.44,27.41h1.31v1.31h-1.31zM11.75,27.41h1.31v1.31h-1.31zM13.05,27.41h1.31v1.31h-1.31zM15.66,27.41h1.31v1.31h-1.31zM20.89,27.41h1.31v1.31h-1.31zM22.19,27.41h1.31v1.31h-1.31zM23.50,27.41h1.31v1.31h-1.31zM24.80,27.41h1.31v1.31h-1.31zM26.11,27.41h1.31v1.31h-1.31zM31.33,27.41h1.31v1.31h-1.31zM32.64,27.41h1.31v1.31h-1.31zM36.55,27.41h1.31v1.31h-1.31zM39.16,27.41h1.31v1.31h-1.31zM40.47,27.41h1.31v1.31h-1.31zM46.99,27.41h1.31v1.31h-1.31zM0.00,28.72h1.31v1.31h-1.31zM1.31,28.72h1.31v1.31h-1.31zM10.44,28.72h1.31v1.31h-1.31zM13.05,28.72h1.31v1.31h-1.31zM15.66,28.72h1.31v1.31h-1.31zM19.58,28.72h1.31v1.31h-1.31zM20.89,28.72h1.31v1.31h-1.31zM22.19,28.72h1.31v1.31h-1.31zM26.11,28.72h1.31v1.31h-1.31zM27.41,28.72h1.31v1.31h-1.31zM31.33,28.72h1.31v1.31h-1.31zM32.64,28.72h1.31v1.31h-1.31zM35.25,28.72h1.31v1.31h-1.31zM36.55,28.72h1.31v1.31h-1.31zM37.86,28.72h1.31v1.31h-1.31zM43.08,28.72h1.31v1.31h-1.31zM44.38,28.72h1.31v1.31h-1.31zM45.69,28.72h1.31v1.31h-1.31zM1.31,30.02h1.31v1.31h-1.31zM2.61,30.02h1.31v1.31h-1.31zM3.92,30.02h1.31v1.31h-1.31zM6.53,30.02h1.31v1.31h-1.31zM7.83,30.02h1.31v1.31h-1.31zM11.75,30.02h1.31v1.31h-1.31zM13.05,30.02h1.31v1.31h-1.31zM14.36,30.02h1.31v1.31h-1.31zM15.66,30.02h1.31v1.31h-1.31zM18.28,30.02h1.31v1.31h-1.31zM23.50,30.02h1.31v1.31h-1.31zM26.11,30.02h1.31v1.31h-1.31zM28.72,30.02h1.31v1.31h-1.31zM30.02,30.02h1.31v1.31h-1.31zM32.64,30.02h1.31v1.31h-1.31zM35.25,30.02h1.31v1.31h-1.31zM36.55,30.02h1.31v1.31h-1.31zM37.86,30.02h1.31v1.31h-1.31zM39.16,30.02h1.31v1.31h-1.31zM43.08,30.02h1.31v1.31h-1.31zM44.38,30.02h1.31v1.31h-1.31zM45.69,30.02h1.31v1.31h-1.31zM0.00,31.33h1.31v1.31h-1.31zM1.31,31.33h1.31v1.31h-1.31zM2.61,31.33h1.31v1.31h-1.31zM3.92,31.33h1.31v1.31h-1.31zM11.75,31.33h1.31v1.31h-1.31zM13.05,31.33h1.31v1.31h-1.31zM16.97,31.33h1.31v1.31h-1.31zM19.58,31.33h1.31v1.31h-1.31zM20.89,31.33h1.31v1.31h-1.31zM22.19,31.33h1.31v1.31h-1.31zM23.50,31.33h1.31v1.31h-1.31zM24.80,31.33h1.31v1.31h-1.31zM26.11,31.33h1.31v1.31h-1.31zM27.41,31.33h1.31v1.31h-1.31zM30.02,31.33h1.31v1.31h-1.31zM32.64,31.33h1.31v1.31h-1.31zM33.94,31.33h1.31v1.31h-1.31zM37.86,31.33h1.31v1.31h-1.31zM39.16,31.33h1.31v1.31h-1.31zM40.47,31.33h1.31v1.31h-1.31zM41.77,31.33h1.31v1.31h-1.31zM44.38,31.33h1.31v1.31h-1.31zM45.69,31.33h1.31v1.31h-1.31zM0.00,32.64h1.31v1.31h-1.31zM1.31,32.64h1.31v1.31h-1.31zM5.22,32.64h1.31v1.31h-1.31zM6.53,32.64h1.31v1.31h-1.31zM7.83,32.64h1.31v1.31h-1.31zM10.44,32.64h1.31v1.31h-1.31zM14.36,32.64h1.31v1.31h-1.31zM15.66,32.64h1.31v1.31h-1.31zM19.58,32.64h1.31v1.31h-1.31zM22.19,32.64h1.31v1.31h-1.31zM23.50,32.64h1.31v1.31h-1.31zM24.80,32.64h1.31v1.31h-1.31zM31.33,32.64h1.31v1.31h-1.31zM32.64,32.64h1.31v1.31h-1.31zM33.94,32.64h1.31v1.31h-1.31zM37.86,32.64h1.31v1.31h-1.31zM39.16,32.64h1.31v1.31h-1.31zM40.47,32.64h1.31v1.31h-1.31zM41.77,32.64h1.31v1.31h-1.31zM44.38,32.64h1.31v1.31h-1.31zM3.92,33.94h1.31v1.31h-1.31zM5.22,33.94h1.31v1.31h-1.31zM6.53,33.94h1.31v1.31h-1.31zM9.14,33.94h1.31v1.31h-1.31zM10.44,33.94h1.31v1.31h-1.31zM13.05,33.94h1.31v1.31h-1.31zM14.36,33.94h1.31v1.31h-1.31zM15.66,33.94h1.31v1.31h-1.31zM18.28,33.94h1.31v1.31h-1.31zM23.50,33.94h1.31v1.31h-1.31zM24.80,33.94h1.31v1.31h-1.31zM26.11,33.94h1.31v1.31h-1.31zM27.41,33.94h1.31v1.31h-1.31zM30.02,33.94h1.31v1.31h-1.31zM31.33,33.94h1.31v1.31h-1.31zM32.64,33.94h1.31v1.31h-1.31zM40.47,33.94h1.31v1.31h-1.31zM43.08,33.94h1.31v1.31h-1.31zM45.69,33.94h1.31v1.31h-1.31zM0.00,35.25h1.31v1.31h-1.31zM1.31,35.25h1.31v1.31h-1.31zM2.61,35.25h1.31v1.31h-1.31zM3.92,35.25h1.31v1.31h-1.31zM7.83,35.25h1.31v1.31h-1.31zM9.14,35.25h1.31v1.31h-1.31zM13.05,35.25h1.31v1.31h-1.31zM18.28,35.25h1.31v1.31h-1.31zM19.58,35.25h1.31v1.31h-1.31zM24.80,35.25h1.31v1.31h-1.31zM26.11,35.25h1.31v1.31h-1.31zM27.41,35.25h1.31v1.31h-1.31zM28.72,35.25h1.31v1.31h-1.31zM33.94,35.25h1.31v1.31h-1.31zM36.55,35.25h1.31v1.31h-1.31zM37.86,35.25h1.31v1.31h-1.31zM41.77,35.25h1.31v1.31h-1.31zM45.69,35.25h1.31v1.31h-1.31zM46.99,35.25h1.31v1.31h-1.31zM11.75,36.55h1.31v1.31h-1.31zM13.05,36.55h1.31v1.31h-1.31zM14.36,36.55h1.31v1.31h-1.31zM18.28,36.55h1.31v1.31h-1.31zM19.58,36.55h1.31v1.31h-1.31zM20.89,36.55h1.31v1.31h-1.31zM23.50,36.55h1.31v1.31h-1.31zM24.80,36.55h1.31v1.31h-1.31zM26.11,36.55h1.31v1.31h-1.31zM30.02,36.55h1.31v1.31h-1.31zM31.33,36.55h1.31v1.31h-1.31zM32.64,36.55h1.31v1.31h-1.31zM36.55,36.55h1.31v1.31h-1.31zM37.86,36.55h1.31v1.31h-1.31zM40.47,36.55h1.31v1.31h-1.31zM41.77,36.55h1.31v1.31h-1.31zM43.08,36.55h1.31v1.31h-1.31zM45.69,36.55h1.31v1.31h-1.31zM11.75,37.86h1.31v1.31h-1.31zM13.05,37.86h1.31v1.31h-1.31zM16.97,37.86h1.31v1.31h-1.31zM18.28,37.86h1.31v1.31h-1.31zM20.89,37.86h1.31v1.31h-1.31zM22.19,37.86h1.31v1.31h-1.31zM24.80,37.86h1.31v1.31h-1.31zM27.41,37.86h1.31v1.31h-1.31zM30.02,37.86h1.31v1.31h-1.31zM31.33,37.86h1.31v1.31h-1.31zM32.64,37.86h1.31v1.31h-1.31zM37.86,37.86h1.31v1.31h-1.31zM40.47,37.86h1.31v1.31h-1.31zM43.08,37.86h1.31v1.31h-1.31zM44.38,37.86h1.31v1.31h-1.31zM11.75,39.16h1.31v1.31h-1.31zM13.05,39.16h1.31v1.31h-1.31zM16.97,39.16h1.31v1.31h-1.31zM18.28,39.16h1.31v1.31h-1.31zM22.19,39.16h1.31v1.31h-1.31zM23.50,39.16h1.31v1.31h-1.31zM26.11,39.16h1.31v1.31h-1.31zM31.33,39.16h1.31v1.31h-1.31zM33.94,39.16h1.31v1.31h-1.31zM35.25,39.16h1.31v1.31h-1.31zM39.16,39.16h1.31v1.31h-1.31zM40.47,39.16h1.31v1.31h-1.31zM41.77,39.16h1.31v1.31h-1.31zM44.38,39.16h1.31v1.31h-1.31zM45.69,39.16h1.31v1.31h-1.31zM46.99,39.16h1.31v1.31h-1.31zM14.36,40.47h1.31v1.31h-1.31zM18.28,40.47h1.31v1.31h-1.31zM20.89,40.47h1.31v1.31h-1.31zM26.11,40.47h1.31v1.31h-1.31zM27.41,40.47h1.31v1.31h-1.31zM30.02,40.47h1.31v1.31h-1.31zM32.64,40.47h1.31v1.31h-1.31zM33.94,40.47h1.31v1.31h-1.31zM35.25,40.47h1.31v1.31h-1.31zM37.86,40.47h1.31v1.31h-1.31zM39.16,40.47h1.31v1.31h-1.31zM43.08,40.47h1.31v1.31h-1.31zM44.38,40.47h1.31v1.31h-1.31zM45.69,40.47h1.31v1.31h-1.31zM46.99,40.47h1.31v1.31h-1.31zM11.75,41.77h1.31v1.31h-1.31zM13.05,41.77h1.31v1.31h-1.31zM14.36,41.77h1.31v1.31h-1.31zM15.66,41.77h1.31v1.31h-1.31zM18.28,41.77h1.31v1.31h-1.31zM20.89,41.77h1.31v1.31h-1.31zM26.11,41.77h1.31v1.31h-1.31zM28.72,41.77h1.31v1.31h-1.31zM31.33,41.77h1.31v1.31h-1.31zM37.86,41.77h1.31v1.31h-1.31zM40.47,41.77h1.31v1.31h-1.31zM44.38,41.77h1.31v1.31h-1.31zM11.75,43.08h1.31v1.31h-1.31zM13.05,43.08h1.31v1.31h-1.31zM15.66,43.08h1.31v1.31h-1.31zM18.28,43.08h1.31v1.31h-1.31zM20.89,43.08h1.31v1.31h-1.31zM24.80,43.08h1.31v1.31h-1.31zM26.11,43.08h1.31v1.31h-1.31zM28.72,43.08h1.31v1.31h-1.31zM30.02,43.08h1.31v1.31h-1.31zM31.33,43.08h1.31v1.31h-1.31zM32.64,43.08h1.31v1.31h-1.31zM37.86,43.08h1.31v1.31h-1.31zM40.47,43.08h1.31v1.31h-1.31zM44.38,43.08h1.31v1.31h-1.31zM14.36,44.38h1.31v1.31h-1.31zM18.28,44.38h1.31v1.31h-1.31zM20.89,44.38h1.31v1.31h-1.31zM24.80,44.38h1.31v1.31h-1.31zM27.41,44.38h1.31v1.31h-1.31zM28.72,44.38h1.31v1.31h-1.31zM31.33,44.38h1.31v1.31h-1.31zM33.94,44.38h1.31v1.31h-1.31zM40.47,44.38h1.31v1.31h-1.31zM41.77,44.38h1.31v1.31h-1.31zM43.08,44.38h1.31v1.31h-1.31zM44.38,44.38h1.31v1.31h-1.31zM46.99,44.38h1.31v1.31h-1.31zM14.36,45.69h1.31v1.31h-1.31zM15.66,45.69h1.31v1.31h-1.31zM18.28,45.69h1.31v1.31h-1.31zM19.58,45.69h1.31v1.31h-1.31zM20.89,45.69h1.31v1.31h-1.31zM22.19,45.69h1.31v1.31h-1.31zM23.50,45.69h1.31v1.31h-1.31zM24.80,45.69h1.31v1.31h-1.31zM28.72,45.69h1.31v1.31h-1.31zM31.33,45.69h1.31v1.31h-1.31zM32.64,45.69h1.31v1.31h-1.31zM35.25,45.69h1.31v1.31h-1.31zM36.55,45.69h1.31v1.31h-1.31zM37.86,45.69h1.31v1.31h-1.31zM43.08,45.69h1.31v1.31h-1.31zM44.38,45.69h1.31v1.31h-1.31zM45.69,45.69h1.31v1.31h-1.31zM13.05,46.99h1.31v1.31h-1.31zM15.66,46.99h1.31v1.31h-1.31zM19.58,46.99h1.31v1.31h-1.31zM22.19,46.99h1.31v1.31h-1.31zM24.80,46.99h1.31v1.31h-1.31zM26.11,46.99h1.31v1.31h-1.31zM27.41,46.99h1.31v1.31h-1.31zM30.02,46.99h1.31v1.31h-1.31zM33.94,46.99h1.31v1.31h-1.31zM35.25,46.99h1.31v1.31h-1.31zM41.77,46.99h1.31v1.31h-1.31zM43.08,46.99h1.31v1.31h-1.31zM44.38,46.99h1.31v1.31h-1.31zM45.69,46.99h1.31v1.31h-1.31z" fill="#a2a2a2"/><rect x="0.8" y="0.8" width="8.6" height="8.6" fill="none" stroke="#111" stroke-width="1.6"/><circle cx="5.1" cy="5.1" r="2.1" fill="#111"/><rect x="38.89999999999999" y="0.8" width="8.6" height="8.6" fill="none" stroke="#111" stroke-width="1.6"/><circle cx="43.199999999999996" cy="5.1" r="2.1" fill="#111"/><rect x="0.8" y="38.89999999999999" width="8.6" height="8.6" fill="none" stroke="#111" stroke-width="1.6"/><circle cx="5.1" cy="43.199999999999996" r="2.1" fill="#111"/></g>
</svg>
</body></html>
